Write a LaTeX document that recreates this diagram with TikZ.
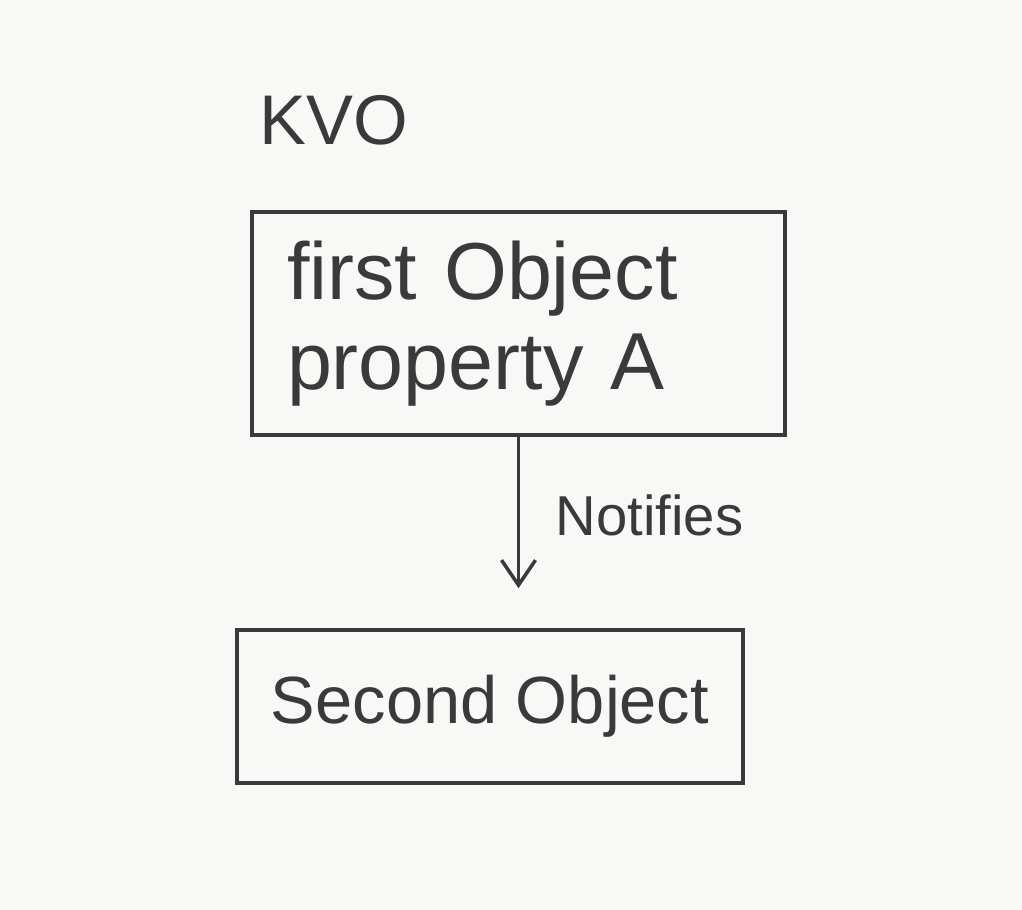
\documentclass[tikz,border=0pt]{standalone}
\usepackage{fontspec}
\setmainfont{Liberation Sans}
\usetikzlibrary{positioning, arrows.meta}
\definecolor{paper}{HTML}{F8F8F6}
\definecolor{pencil}{HTML}{3A3A3A}

\begin{document}
\begin{tikzpicture}[box/.style={draw=pencil, line width=1pt, inner sep=0pt, text=pencil},
hand/.style={text=pencil, inner sep=0pt}]
\fill[paper] (0,0) rectangle (10.22,9.10);
\useasboundingbox (0,0) rectangle (10.22,9.10);
\node[hand, font=\fontsize{20}{22}\selectfont] (kvo) at (3.34,7.90) {KVO};
\node[box, minimum width=5.33cm, minimum height=2.23cm, text width=4.63cm, align=left,
font=\fontsize{23}{25.5}\selectfont] (first) at (5.185,5.865) {first Object\\property A};
\node[box, minimum width=5.06cm, minimum height=1.53cm, font=\fontsize{19}{22}\selectfont] (second) at (4.90,2.035) {Second Object};
\draw[pencil, line width=1pt, -{Straight Barb[length=0.25cm, width=0.34cm]}, shorten >=0.4cm] (first.south) -- (first.south |- second.north);
\node[hand, font=\fontsize{16}{18}\selectfont, anchor=west] (notifies) at (5.55,3.95) {Notifies};
\end{tikzpicture}
\end{document}
